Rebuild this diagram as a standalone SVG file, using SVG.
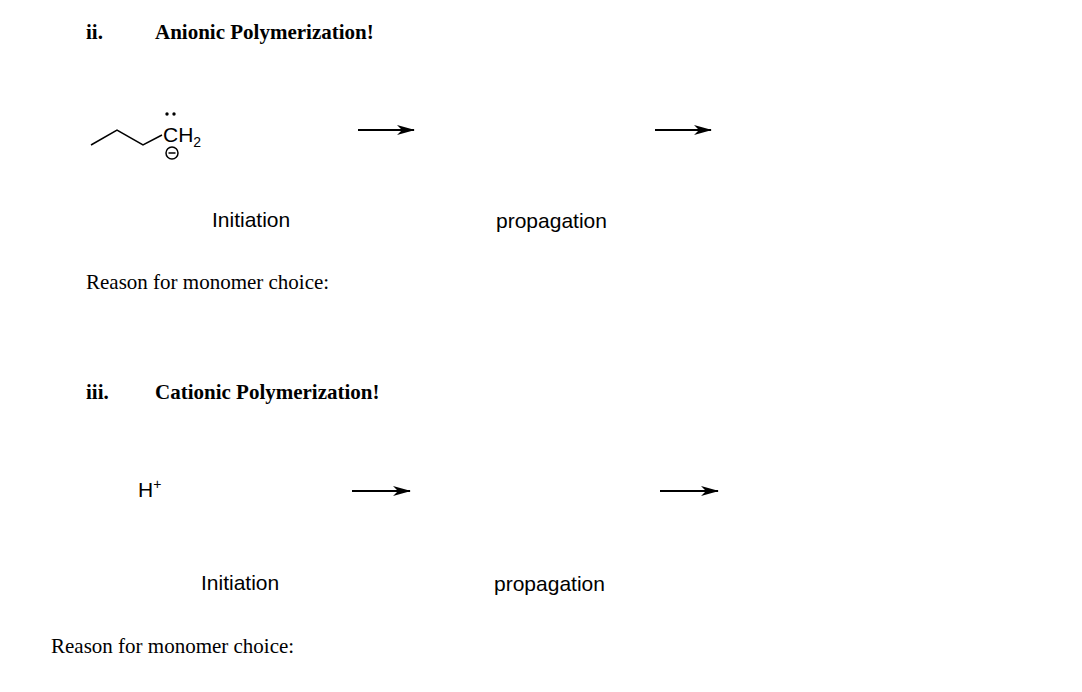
<svg xmlns="http://www.w3.org/2000/svg" width="1082" height="692" viewBox="0 0 1082 692">
<style>
.b{font-family:"Liberation Serif",serif;font-weight:bold;font-size:21px}
.s{font-family:"Liberation Serif",serif;font-size:21px}
.a{font-family:"Liberation Sans",sans-serif;font-size:21px}
.ln{stroke:#000;stroke-width:1.5;fill:none}
.ar{stroke:#000;stroke-width:2;fill:none}
</style>
<defs><marker id="h" markerWidth="18" markerHeight="10" refX="17" refY="5" orient="auto" markerUnits="userSpaceOnUse"><path d="M0,0 L18,5 L0,10 L5,5 Z" fill="#000"/></marker></defs>
<rect width="1082" height="692" fill="#fff"/>
<text class="b" x="86" y="39">ii.</text>
<text class="b" x="155" y="39">Anionic Polymerization!</text>
<g id="mol">
<polyline class="ln" points="91,145 117,130 143,145 162,135"/>
<text class="a" x="163" y="142" font-size="20">CH<tspan font-size="14" dy="5">2</tspan></text>
<circle cx="167" cy="114" r="1.7"/><circle cx="174" cy="114" r="1.7"/>
<circle class="ln" cx="172" cy="153" r="6" stroke-width="1.2"/>
<line class="ln" x1="168.5" y1="153" x2="175.5" y2="153" stroke-width="1.2"/>
</g>
<g id="connectors">
<line class="ar" x1="358" y1="130" x2="414" y2="130" marker-end="url(#h)"/>
<line class="ar" x1="655" y1="130" x2="711" y2="130" marker-end="url(#h)"/>
<line class="ar" x1="352" y1="491" x2="410" y2="491" marker-end="url(#h)"/>
<line class="ar" x1="660" y1="491" x2="718" y2="491" marker-end="url(#h)"/>
</g>
<text class="a" x="212" y="227">Initiation</text>
<text class="a" x="496" y="228">propagation</text>
<text class="s" x="86" y="289">Reason for monomer choice:</text>
<text class="b" x="86" y="399">iii.</text>
<text class="b" x="155" y="399">Cationic Polymerization!</text>
<text class="a" x="138" y="497">H<tspan font-size="14" dy="-8">+</tspan></text>
<text class="a" x="201" y="590">Initiation</text>
<text class="a" x="494" y="591">propagation</text>
<text class="s" x="51" y="653">Reason for monomer choice:</text>
</svg>
